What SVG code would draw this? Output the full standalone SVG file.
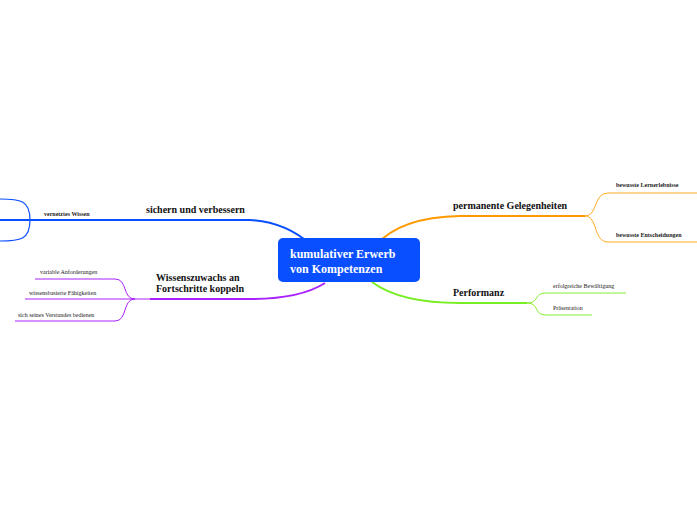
<svg xmlns="http://www.w3.org/2000/svg" width="697" height="520" viewBox="0 0 697 520">
<style>
.t{font-family:"Liberation Serif",serif;font-weight:bold;font-size:10px;fill:#111}
.s{font-family:"Liberation Serif",serif;font-size:6px;fill:#222}
.sb{font-family:"Liberation Serif",serif;font-size:6px;font-weight:bold;fill:#222}
path{fill:none}
</style>
<rect width="697" height="520" fill="#fff"/>
<g id="connectors">
<path d="M310,244 Q285,222 250,220 L0,220" stroke="#0a4fff" stroke-width="2"/>
<path d="M30,220 C30,200 20,199 0,199 M30,220 C30,240 20,241 0,241" stroke="#0a4fff" stroke-width="1.2"/>
<path d="M325,283 Q300,299 250,299 L150,299" stroke="#aa22ff" stroke-width="2"/>
<path d="M150,299 L25,299 M135,299 C122,299 128,279 115,279 L35,279 M135,299 C122,299 128,321 115,321 L15,321" stroke="#aa22ff" stroke-width="1"/>
<path d="M375,246 Q400,217 460,216 L585,216" stroke="#ff9900" stroke-width="2"/>
<path d="M585,216 C598,216 593,193 608,193 L697,193 M585,216 C598,216 593,242 608,242 L697,242" stroke="#ffaa22" stroke-width="1"/>
<path d="M372,282 Q400,303 460,303 L527,303" stroke="#77ee22" stroke-width="2"/>
<path d="M527,303 C540,303 533,293 546,293 L626,293 M527,303 C540,303 533,315 546,315 L592,315" stroke="#88ee33" stroke-width="1"/>
</g>
<g id="center">
<rect x="278" y="238" width="142" height="44" rx="5" fill="#0a4fff"/>
<text x="290" y="258" font-family="Liberation Serif,serif" font-weight="bold" font-size="12" fill="#fff">kumulativer Erwerb</text>
<text x="290" y="273" font-family="Liberation Serif,serif" font-weight="bold" font-size="12" fill="#fff">von Kompetenzen</text>
</g>
<g id="n1"><text class="t" x="146" y="213">sichern und verbessern</text></g>
<g id="n1a"><text class="sb" x="44" y="216">vernetztes Wissen</text></g>
<g id="n2"><text class="t" x="156" y="281">Wissenszuwachs an</text><text class="t" x="156" y="292">Fortschritte koppeln</text></g>
<g id="n2a"><text class="s" x="40" y="274">variable Anforderungen</text></g>
<g id="n2b"><text class="s" x="29" y="295">wissensbasierte Fähigkeiten</text></g>
<g id="n2c"><text class="s" x="18" y="317">sich seines Verstandes bedienen</text></g>
<g id="n3"><text class="t" x="453" y="209">permanente Gelegenheiten</text></g>
<g id="n3a"><text class="sb" x="616" y="187">bewusste Lernerlebnisse</text></g>
<g id="n3b"><text class="sb" x="616" y="237">bewusste Entscheidungen</text></g>
<g id="n4"><text class="t" x="453" y="296">Performanz</text></g>
<g id="n4a"><text class="s" x="553" y="288">erfolgreiche Bewältigung</text></g>
<g id="n4b"><text class="s" x="553" y="310">Präsentation</text></g>
</svg>
